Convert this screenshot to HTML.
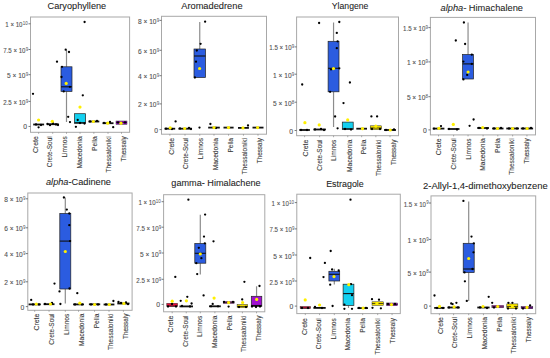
<!DOCTYPE html>
<html><head><meta charset="utf-8"><style>
html,body{margin:0;padding:0;background:#fff;}
svg{display:block;}
text{font-family:"Liberation Sans", sans-serif;}
</style></head><body>
<svg width="550" height="358" viewBox="0 0 550 358">
<rect width="550" height="358" fill="#fff"/>
<rect x="30.5" y="17" width="99.1" height="115.3" fill="#fff" stroke="#a8a8a8" stroke-width="1"/>
<line x1="28.5" y1="126.45" x2="30.5" y2="126.45" stroke="#555" stroke-width="0.8"/>
<text x="27" y="129.45" font-size="6.8" fill="#505050" stroke="#505050" stroke-width="0.1" text-anchor="end">0</text>
<line x1="28.5" y1="101.4" x2="30.5" y2="101.4" stroke="#555" stroke-width="0.8"/>
<text x="25.5" y="104.95" font-size="6.8" fill="#505050" stroke="#505050" stroke-width="0.1" text-anchor="end" textLength="22.29" lengthAdjust="spacingAndGlyphs">2.5 × 10</text>
<text x="25.7" y="102.7" font-size="4.5" fill="#505050" text-anchor="start">9</text>
<line x1="28.5" y1="74.7" x2="30.5" y2="74.7" stroke="#555" stroke-width="0.8"/>
<text x="25.5" y="78.25" font-size="6.8" fill="#505050" stroke="#505050" stroke-width="0.1" text-anchor="end" textLength="18.52" lengthAdjust="spacingAndGlyphs">5 × 10</text>
<text x="25.7" y="76" font-size="4.5" fill="#505050" text-anchor="start">9</text>
<line x1="28.5" y1="49.5" x2="30.5" y2="49.5" stroke="#555" stroke-width="0.8"/>
<text x="25.5" y="53.05" font-size="6.8" fill="#505050" stroke="#505050" stroke-width="0.1" text-anchor="end" textLength="22.29" lengthAdjust="spacingAndGlyphs">7.5 × 10</text>
<text x="25.7" y="50.8" font-size="4.5" fill="#505050" text-anchor="start">9</text>
<line x1="28.5" y1="23.8" x2="30.5" y2="23.8" stroke="#555" stroke-width="0.8"/>
<text x="22.5" y="27.35" font-size="6.8" fill="#505050" stroke="#505050" stroke-width="0.1" text-anchor="end" textLength="17.19" lengthAdjust="spacingAndGlyphs">1 × 10</text>
<text x="22.7" y="25.1" font-size="4.5" fill="#505050" text-anchor="start">10</text>
<line x1="38.65" y1="132.3" x2="38.65" y2="133.8" stroke="#777" stroke-width="0.6"/>
<text transform="translate(38.4 136.3) rotate(-90)" font-size="7" fill="#3a3a3a" stroke="#3a3a3a" stroke-width="0.1" text-anchor="end" textLength="16.8" lengthAdjust="spacingAndGlyphs">Crete</text>
<line x1="52.7" y1="132.3" x2="52.7" y2="133.8" stroke="#777" stroke-width="0.6"/>
<text transform="translate(52.25 136.3) rotate(-90)" font-size="7" fill="#3a3a3a" stroke="#3a3a3a" stroke-width="0.1" text-anchor="end" textLength="31" lengthAdjust="spacingAndGlyphs">Crete-Soul</text>
<line x1="66.5" y1="132.3" x2="66.5" y2="133.8" stroke="#777" stroke-width="0.6"/>
<text transform="translate(67.05 136.3) rotate(-90)" font-size="7" fill="#3a3a3a" stroke="#3a3a3a" stroke-width="0.1" text-anchor="end" textLength="21.3" lengthAdjust="spacingAndGlyphs">Limnos</text>
<line x1="80.05" y1="132.3" x2="80.05" y2="133.8" stroke="#777" stroke-width="0.6"/>
<text transform="translate(82.05 136.3) rotate(-90)" font-size="7" fill="#3a3a3a" stroke="#3a3a3a" stroke-width="0.1" text-anchor="end" textLength="32.3" lengthAdjust="spacingAndGlyphs">Macedonia</text>
<line x1="93.85" y1="132.3" x2="93.85" y2="133.8" stroke="#777" stroke-width="0.6"/>
<text transform="translate(96.55 136.3) rotate(-90)" font-size="7" fill="#3a3a3a" stroke="#3a3a3a" stroke-width="0.1" text-anchor="end" textLength="14.6" lengthAdjust="spacingAndGlyphs">Pella</text>
<line x1="108" y1="132.3" x2="108" y2="133.8" stroke="#777" stroke-width="0.6"/>
<text transform="translate(111.35 136.3) rotate(-90)" font-size="7" fill="#3a3a3a" stroke="#3a3a3a" stroke-width="0.1" text-anchor="end" textLength="36.3" lengthAdjust="spacingAndGlyphs">Thessaloniki</text>
<line x1="121.5" y1="132.3" x2="121.5" y2="133.8" stroke="#777" stroke-width="0.6"/>
<text transform="translate(126.05 136.3) rotate(-90)" font-size="7" fill="#3a3a3a" stroke="#3a3a3a" stroke-width="0.1" text-anchor="end" textLength="25.2" lengthAdjust="spacingAndGlyphs">Thessaly</text>
<rect x="33.2" y="123.6" width="10.9" height="1.8" fill="#111"/>
<rect x="46.8" y="123.3" width="11.8" height="1.8" fill="#111"/>
<line x1="66.5" y1="49.7" x2="66.5" y2="66.8" stroke="#8c8c8c" stroke-width="1.2"/>
<line x1="66.5" y1="91.4" x2="66.5" y2="122" stroke="#8c8c8c" stroke-width="1.2"/>
<rect x="61" y="66.8" width="11" height="24.6" fill="#2b5ce0" stroke="#222" stroke-width="0.7"/>
<line x1="61" y1="86.8" x2="72" y2="86.8" stroke="#111" stroke-width="1.1"/>
<rect x="74.5" y="113.7" width="11.1" height="9.6" fill="#14d0f0" stroke="#222" stroke-width="0.7"/>
<line x1="74.5" y1="122.7" x2="85.6" y2="122.7" stroke="#111" stroke-width="1.1"/>
<rect x="88.4" y="120.6" width="10.9" height="1.8" fill="#111"/>
<rect x="102.5" y="122.3" width="11" height="1.8" fill="#111"/>
<rect x="116" y="121" width="11" height="3.3" fill="#a010d0" stroke="#222" stroke-width="0.45"/>
<line x1="116" y1="122.5" x2="127" y2="122.5" stroke="#111" stroke-width="0.7"/>
<circle cx="38.6" cy="127.3" r="1.15" fill="#000"/>
<circle cx="33" cy="93.8" r="1.15" fill="#000"/>
<circle cx="36" cy="124.5" r="1.15" fill="#000"/>
<circle cx="41" cy="125" r="1.15" fill="#000"/>
<circle cx="47.5" cy="124" r="1.15" fill="#000"/>
<circle cx="50" cy="125.2" r="1.15" fill="#000"/>
<circle cx="53" cy="123.5" r="1.15" fill="#000"/>
<circle cx="56" cy="124.5" r="1.15" fill="#000"/>
<circle cx="58" cy="125" r="1.15" fill="#000"/>
<circle cx="65.7" cy="49.7" r="1.15" fill="#000"/>
<circle cx="69" cy="52" r="1.15" fill="#000"/>
<circle cx="57" cy="61.7" r="1.15" fill="#000"/>
<circle cx="62" cy="66.8" r="1.15" fill="#000"/>
<circle cx="61.5" cy="77" r="1.15" fill="#000"/>
<circle cx="69.9" cy="86.8" r="1.15" fill="#000"/>
<circle cx="63.7" cy="91.4" r="1.15" fill="#000"/>
<circle cx="68.2" cy="116.8" r="1.15" fill="#000"/>
<circle cx="70" cy="122.1" r="1.15" fill="#000"/>
<circle cx="84.6" cy="22" r="1.15" fill="#000"/>
<circle cx="82.8" cy="95.3" r="1.15" fill="#000"/>
<circle cx="77.7" cy="120" r="1.15" fill="#000"/>
<circle cx="75.9" cy="126.8" r="1.15" fill="#000"/>
<circle cx="80" cy="123" r="1.15" fill="#000"/>
<circle cx="84.5" cy="123.5" r="1.15" fill="#000"/>
<circle cx="90" cy="121.5" r="1.15" fill="#000"/>
<circle cx="97" cy="121" r="1.15" fill="#000"/>
<circle cx="113.2" cy="127.2" r="1.15" fill="#000"/>
<circle cx="104" cy="123" r="1.15" fill="#000"/>
<circle cx="110" cy="122" r="1.15" fill="#000"/>
<circle cx="118" cy="122.5" r="1.15" fill="#000"/>
<circle cx="125" cy="122.5" r="1.15" fill="#000"/>
<circle cx="38.6" cy="120" r="1.6" fill="#fff000"/>
<circle cx="52.3" cy="121.3" r="1.6" fill="#fff000"/>
<circle cx="66.2" cy="83.4" r="1.6" fill="#fff000"/>
<circle cx="80" cy="107.1" r="1.6" fill="#fff000"/>
<circle cx="93.4" cy="121.5" r="1.6" fill="#fff000"/>
<circle cx="107.7" cy="123.2" r="1.6" fill="#fff000"/>
<circle cx="121" cy="123.2" r="1.6" fill="#fff000"/>
<text x="47.6" y="9.2" font-size="9.4" fill="#1e1e1e" stroke="#1e1e1e" stroke-width="0.08" textLength="58.6" lengthAdjust="spacingAndGlyphs"><tspan>Caryophyllene</tspan></text>
<rect x="161.5" y="16.3" width="105" height="117.9" fill="#fff" stroke="#a8a8a8" stroke-width="1"/>
<line x1="159.5" y1="129.6" x2="161.5" y2="129.6" stroke="#555" stroke-width="0.8"/>
<text x="158" y="132.6" font-size="6.8" fill="#505050" stroke="#505050" stroke-width="0.1" text-anchor="end">0</text>
<line x1="159.5" y1="103.9" x2="161.5" y2="103.9" stroke="#555" stroke-width="0.8"/>
<text x="156.5" y="107.45" font-size="6.8" fill="#505050" stroke="#505050" stroke-width="0.1" text-anchor="end" textLength="18.52" lengthAdjust="spacingAndGlyphs">2 × 10</text>
<text x="156.7" y="105.2" font-size="4.5" fill="#505050" text-anchor="start">9</text>
<line x1="159.5" y1="75.7" x2="161.5" y2="75.7" stroke="#555" stroke-width="0.8"/>
<text x="156.5" y="79.25" font-size="6.8" fill="#505050" stroke="#505050" stroke-width="0.1" text-anchor="end" textLength="18.52" lengthAdjust="spacingAndGlyphs">4 × 10</text>
<text x="156.7" y="77" font-size="4.5" fill="#505050" text-anchor="start">9</text>
<line x1="159.5" y1="50.3" x2="161.5" y2="50.3" stroke="#555" stroke-width="0.8"/>
<text x="156.5" y="53.85" font-size="6.8" fill="#505050" stroke="#505050" stroke-width="0.1" text-anchor="end" textLength="18.52" lengthAdjust="spacingAndGlyphs">6 × 10</text>
<text x="156.7" y="51.6" font-size="4.5" fill="#505050" text-anchor="start">9</text>
<line x1="159.5" y1="20.4" x2="161.5" y2="20.4" stroke="#555" stroke-width="0.8"/>
<text x="156.5" y="23.95" font-size="6.8" fill="#505050" stroke="#505050" stroke-width="0.1" text-anchor="end" textLength="18.52" lengthAdjust="spacingAndGlyphs">8 × 10</text>
<text x="156.7" y="21.7" font-size="4.5" fill="#505050" text-anchor="start">9</text>
<line x1="169.85" y1="134.2" x2="169.85" y2="135.7" stroke="#777" stroke-width="0.6"/>
<text transform="translate(173.55 138) rotate(-90)" font-size="7" fill="#3a3a3a" stroke="#3a3a3a" stroke-width="0.1" text-anchor="end" textLength="16.8" lengthAdjust="spacingAndGlyphs">Crete</text>
<line x1="185" y1="134.2" x2="185" y2="135.7" stroke="#777" stroke-width="0.6"/>
<text transform="translate(188.35 138) rotate(-90)" font-size="7" fill="#3a3a3a" stroke="#3a3a3a" stroke-width="0.1" text-anchor="end" textLength="31" lengthAdjust="spacingAndGlyphs">Crete-Soul</text>
<line x1="199.75" y1="134.2" x2="199.75" y2="135.7" stroke="#777" stroke-width="0.6"/>
<text transform="translate(203.4 138) rotate(-90)" font-size="7" fill="#3a3a3a" stroke="#3a3a3a" stroke-width="0.1" text-anchor="end" textLength="21.3" lengthAdjust="spacingAndGlyphs">Limnos</text>
<line x1="214" y1="134.2" x2="214" y2="135.7" stroke="#777" stroke-width="0.6"/>
<text transform="translate(218.05 138) rotate(-90)" font-size="7" fill="#3a3a3a" stroke="#3a3a3a" stroke-width="0.1" text-anchor="end" textLength="32.3" lengthAdjust="spacingAndGlyphs">Macedonia</text>
<line x1="228.55" y1="134.2" x2="228.55" y2="135.7" stroke="#777" stroke-width="0.6"/>
<text transform="translate(232.65 138) rotate(-90)" font-size="7" fill="#3a3a3a" stroke="#3a3a3a" stroke-width="0.1" text-anchor="end" textLength="14.6" lengthAdjust="spacingAndGlyphs">Pella</text>
<line x1="243.45" y1="134.2" x2="243.45" y2="135.7" stroke="#777" stroke-width="0.6"/>
<text transform="translate(247.05 138) rotate(-90)" font-size="7" fill="#3a3a3a" stroke="#3a3a3a" stroke-width="0.1" text-anchor="end" textLength="36.3" lengthAdjust="spacingAndGlyphs">Thessaloniki</text>
<line x1="258" y1="134.2" x2="258" y2="135.7" stroke="#777" stroke-width="0.6"/>
<text transform="translate(262.05 138) rotate(-90)" font-size="7" fill="#3a3a3a" stroke="#3a3a3a" stroke-width="0.1" text-anchor="end" textLength="25.2" lengthAdjust="spacingAndGlyphs">Thessaly</text>
<rect x="164.5" y="127.8" width="10.7" height="1.8" fill="#111"/>
<rect x="178.4" y="127.8" width="13.2" height="1.8" fill="#111"/>
<line x1="199.75" y1="22" x2="199.75" y2="49" stroke="#8c8c8c" stroke-width="1.2"/>
<rect x="194" y="49" width="11.5" height="28.5" fill="#2b5ce0" stroke="#222" stroke-width="0.7"/>
<line x1="194" y1="56" x2="205.5" y2="56" stroke="#111" stroke-width="1.1"/>
<rect x="208.2" y="126.7" width="11.6" height="1.8" fill="#111"/>
<rect x="223.5" y="126.7" width="10.1" height="1.8" fill="#111"/>
<rect x="238" y="127" width="10.9" height="1.8" fill="#111"/>
<rect x="252.5" y="126.7" width="11" height="1.8" fill="#111"/>
<circle cx="175.6" cy="121.4" r="1.15" fill="#000"/>
<circle cx="166" cy="128.7" r="1.15" fill="#000"/>
<circle cx="172" cy="129" r="1.15" fill="#000"/>
<circle cx="180" cy="128.5" r="1.15" fill="#000"/>
<circle cx="189" cy="127.8" r="1.15" fill="#000"/>
<circle cx="191" cy="129" r="1.15" fill="#000"/>
<circle cx="205.1" cy="21.7" r="1.15" fill="#000"/>
<circle cx="200.6" cy="43.8" r="1.15" fill="#000"/>
<circle cx="196.8" cy="50.5" r="1.15" fill="#000"/>
<circle cx="196" cy="61.7" r="1.15" fill="#000"/>
<circle cx="194.9" cy="77.5" r="1.15" fill="#000"/>
<circle cx="199.5" cy="127.6" r="1.15" fill="#000"/>
<circle cx="210.4" cy="124" r="1.15" fill="#000"/>
<circle cx="216" cy="128" r="1.15" fill="#000"/>
<circle cx="248" cy="125.5" r="1.15" fill="#000"/>
<circle cx="170.2" cy="127.8" r="1.6" fill="#fff000"/>
<circle cx="184.7" cy="128.5" r="1.6" fill="#fff000"/>
<circle cx="199.6" cy="68.5" r="1.6" fill="#fff000"/>
<circle cx="214" cy="127.6" r="1.6" fill="#fff000"/>
<circle cx="228.5" cy="127.6" r="1.6" fill="#fff000"/>
<circle cx="243" cy="127.9" r="1.6" fill="#fff000"/>
<circle cx="257.6" cy="127.6" r="1.6" fill="#fff000"/>
<text x="181.2" y="9.1" font-size="9.4" fill="#1e1e1e" stroke="#1e1e1e" stroke-width="0.08" textLength="61.4" lengthAdjust="spacingAndGlyphs"><tspan>Aromadedrene</tspan></text>
<rect x="296.6" y="17" width="101.9" height="118.7" fill="#fff" stroke="#a8a8a8" stroke-width="1"/>
<line x1="294.6" y1="130.5" x2="296.6" y2="130.5" stroke="#555" stroke-width="0.8"/>
<text x="293.1" y="133.5" font-size="6.8" fill="#505050" stroke="#505050" stroke-width="0.1" text-anchor="end">0</text>
<line x1="294.6" y1="102.2" x2="296.6" y2="102.2" stroke="#555" stroke-width="0.8"/>
<text x="291.6" y="105.75" font-size="6.8" fill="#505050" stroke="#505050" stroke-width="0.1" text-anchor="end" textLength="18.52" lengthAdjust="spacingAndGlyphs">5 × 10</text>
<text x="291.8" y="103.5" font-size="4.5" fill="#505050" text-anchor="start">8</text>
<line x1="294.6" y1="74.2" x2="296.6" y2="74.2" stroke="#555" stroke-width="0.8"/>
<text x="291.6" y="77.75" font-size="6.8" fill="#505050" stroke="#505050" stroke-width="0.1" text-anchor="end" textLength="18.52" lengthAdjust="spacingAndGlyphs">1 × 10</text>
<text x="291.8" y="75.5" font-size="4.5" fill="#505050" text-anchor="start">9</text>
<line x1="294.6" y1="46.9" x2="296.6" y2="46.9" stroke="#555" stroke-width="0.8"/>
<text x="291.6" y="50.45" font-size="6.8" fill="#505050" stroke="#505050" stroke-width="0.1" text-anchor="end" textLength="22.29" lengthAdjust="spacingAndGlyphs">1.5 × 10</text>
<text x="291.8" y="48.2" font-size="4.5" fill="#505050" text-anchor="start">9</text>
<line x1="304.6" y1="135.7" x2="304.6" y2="137.2" stroke="#777" stroke-width="0.6"/>
<text transform="translate(307.55 139.7) rotate(-90)" font-size="7" fill="#3a3a3a" stroke="#3a3a3a" stroke-width="0.1" text-anchor="end" textLength="16.8" lengthAdjust="spacingAndGlyphs">Crete</text>
<line x1="319.65" y1="135.7" x2="319.65" y2="137.2" stroke="#777" stroke-width="0.6"/>
<text transform="translate(321.95 139.7) rotate(-90)" font-size="7" fill="#3a3a3a" stroke="#3a3a3a" stroke-width="0.1" text-anchor="end" textLength="31" lengthAdjust="spacingAndGlyphs">Crete-Soul</text>
<line x1="333.55" y1="135.7" x2="333.55" y2="137.2" stroke="#777" stroke-width="0.6"/>
<text transform="translate(336.35 139.7) rotate(-90)" font-size="7" fill="#3a3a3a" stroke="#3a3a3a" stroke-width="0.1" text-anchor="end" textLength="21.3" lengthAdjust="spacingAndGlyphs">Limnos</text>
<line x1="347.75" y1="135.7" x2="347.75" y2="137.2" stroke="#777" stroke-width="0.6"/>
<text transform="translate(351.55 139.7) rotate(-90)" font-size="7" fill="#3a3a3a" stroke="#3a3a3a" stroke-width="0.1" text-anchor="end" textLength="32.3" lengthAdjust="spacingAndGlyphs">Macedonia</text>
<line x1="361.65" y1="135.7" x2="361.65" y2="137.2" stroke="#777" stroke-width="0.6"/>
<text transform="translate(366.35 139.7) rotate(-90)" font-size="7" fill="#3a3a3a" stroke="#3a3a3a" stroke-width="0.1" text-anchor="end" textLength="14.6" lengthAdjust="spacingAndGlyphs">Pella</text>
<line x1="375.85" y1="135.7" x2="375.85" y2="137.2" stroke="#777" stroke-width="0.6"/>
<text transform="translate(380.95 139.7) rotate(-90)" font-size="7" fill="#3a3a3a" stroke="#3a3a3a" stroke-width="0.1" text-anchor="end" textLength="36.3" lengthAdjust="spacingAndGlyphs">Thessaloniki</text>
<line x1="390" y1="135.7" x2="390" y2="137.2" stroke="#777" stroke-width="0.6"/>
<text transform="translate(396.05 139.7) rotate(-90)" font-size="7" fill="#3a3a3a" stroke="#3a3a3a" stroke-width="0.1" text-anchor="end" textLength="25.2" lengthAdjust="spacingAndGlyphs">Thessaly</text>
<rect x="299.3" y="129.1" width="10.6" height="1.8" fill="#111"/>
<rect x="313.4" y="128.6" width="12.5" height="1.8" fill="#111"/>
<line x1="333.55" y1="22.5" x2="333.55" y2="41.3" stroke="#8c8c8c" stroke-width="1.2"/>
<line x1="333.55" y1="91.8" x2="333.55" y2="127" stroke="#8c8c8c" stroke-width="1.2"/>
<rect x="328.1" y="41.3" width="10.9" height="50.5" fill="#2b5ce0" stroke="#222" stroke-width="0.7"/>
<line x1="328.1" y1="68.3" x2="339" y2="68.3" stroke="#111" stroke-width="1.1"/>
<rect x="342.3" y="122.1" width="10.9" height="7.5" fill="#14d0f0" stroke="#222" stroke-width="0.7"/>
<line x1="342.3" y1="128.8" x2="353.2" y2="128.8" stroke="#111" stroke-width="1.1"/>
<rect x="356.3" y="127.8" width="10.7" height="1.8" fill="#111"/>
<rect x="370.2" y="125.8" width="11.3" height="3.8" fill="#f0dc00" stroke="#222" stroke-width="0.45"/>
<line x1="370.2" y1="128" x2="381.5" y2="128" stroke="#111" stroke-width="0.7"/>
<rect x="384" y="129.1" width="12" height="1.8" fill="#111"/>
<circle cx="302.2" cy="84.5" r="1.15" fill="#000"/>
<circle cx="301" cy="130" r="1.15" fill="#000"/>
<circle cx="307" cy="130" r="1.15" fill="#000"/>
<circle cx="319.1" cy="23" r="1.15" fill="#000"/>
<circle cx="315" cy="129.5" r="1.15" fill="#000"/>
<circle cx="321" cy="129" r="1.15" fill="#000"/>
<circle cx="324" cy="130" r="1.15" fill="#000"/>
<circle cx="339.3" cy="22" r="1.15" fill="#000"/>
<circle cx="336.8" cy="32.9" r="1.15" fill="#000"/>
<circle cx="337.6" cy="41.3" r="1.15" fill="#000"/>
<circle cx="336.8" cy="48.2" r="1.15" fill="#000"/>
<circle cx="331" cy="69.4" r="1.15" fill="#000"/>
<circle cx="339.3" cy="68.3" r="1.15" fill="#000"/>
<circle cx="330.1" cy="91.8" r="1.15" fill="#000"/>
<circle cx="335.1" cy="116.5" r="1.15" fill="#000"/>
<circle cx="337.6" cy="128.3" r="1.15" fill="#000"/>
<circle cx="349.9" cy="82.5" r="1.15" fill="#000"/>
<circle cx="343.5" cy="103.1" r="1.15" fill="#000"/>
<circle cx="345" cy="129" r="1.15" fill="#000"/>
<circle cx="351" cy="129.5" r="1.15" fill="#000"/>
<circle cx="371.4" cy="116.4" r="1.15" fill="#000"/>
<circle cx="377.1" cy="116.4" r="1.15" fill="#000"/>
<circle cx="372" cy="129" r="1.15" fill="#000"/>
<circle cx="380" cy="129" r="1.15" fill="#000"/>
<circle cx="386" cy="130" r="1.15" fill="#000"/>
<circle cx="394" cy="129.5" r="1.15" fill="#000"/>
<circle cx="304.9" cy="122.7" r="1.6" fill="#fff000"/>
<circle cx="319.2" cy="124.9" r="1.6" fill="#fff000"/>
<circle cx="333.5" cy="68.6" r="1.6" fill="#fff000"/>
<circle cx="347.7" cy="119.9" r="1.6" fill="#fff000"/>
<circle cx="362.5" cy="128.7" r="1.6" fill="#fff000"/>
<circle cx="375.8" cy="126.2" r="1.6" fill="#fff000"/>
<circle cx="390.3" cy="130" r="1.6" fill="#fff000"/>
<text x="331.8" y="9.4" font-size="9.4" fill="#1e1e1e" stroke="#1e1e1e" stroke-width="0.08" textLength="36.6" lengthAdjust="spacingAndGlyphs"><tspan>Ylangene</tspan></text>
<rect x="430.4" y="17.4" width="105.1" height="117.5" fill="#fff" stroke="#a8a8a8" stroke-width="1"/>
<line x1="428.4" y1="129.9" x2="430.4" y2="129.9" stroke="#555" stroke-width="0.8"/>
<text x="426.9" y="132.9" font-size="6.8" fill="#505050" stroke="#505050" stroke-width="0.1" text-anchor="end">0</text>
<line x1="428.4" y1="96.7" x2="430.4" y2="96.7" stroke="#555" stroke-width="0.8"/>
<text x="425.4" y="100.25" font-size="6.8" fill="#505050" stroke="#505050" stroke-width="0.1" text-anchor="end" textLength="18.52" lengthAdjust="spacingAndGlyphs">5 × 10</text>
<text x="425.6" y="98" font-size="4.5" fill="#505050" text-anchor="start">8</text>
<line x1="428.4" y1="61.9" x2="430.4" y2="61.9" stroke="#555" stroke-width="0.8"/>
<text x="425.4" y="65.45" font-size="6.8" fill="#505050" stroke="#505050" stroke-width="0.1" text-anchor="end" textLength="18.52" lengthAdjust="spacingAndGlyphs">1 × 10</text>
<text x="425.6" y="63.2" font-size="4.5" fill="#505050" text-anchor="start">9</text>
<line x1="428.4" y1="27.6" x2="430.4" y2="27.6" stroke="#555" stroke-width="0.8"/>
<text x="425.4" y="31.15" font-size="6.8" fill="#505050" stroke="#505050" stroke-width="0.1" text-anchor="end" textLength="22.29" lengthAdjust="spacingAndGlyphs">1.5 × 10</text>
<text x="425.6" y="28.9" font-size="4.5" fill="#505050" text-anchor="start">9</text>
<line x1="438.55" y1="134.9" x2="438.55" y2="136.4" stroke="#777" stroke-width="0.6"/>
<text transform="translate(441.25 138.4) rotate(-90)" font-size="7" fill="#3a3a3a" stroke="#3a3a3a" stroke-width="0.1" text-anchor="end" textLength="16.8" lengthAdjust="spacingAndGlyphs">Crete</text>
<line x1="453.6" y1="134.9" x2="453.6" y2="136.4" stroke="#777" stroke-width="0.6"/>
<text transform="translate(455.95 138.4) rotate(-90)" font-size="7" fill="#3a3a3a" stroke="#3a3a3a" stroke-width="0.1" text-anchor="end" textLength="31" lengthAdjust="spacingAndGlyphs">Crete-Soul</text>
<line x1="468.05" y1="134.9" x2="468.05" y2="136.4" stroke="#777" stroke-width="0.6"/>
<text transform="translate(470.75 138.4) rotate(-90)" font-size="7" fill="#3a3a3a" stroke="#3a3a3a" stroke-width="0.1" text-anchor="end" textLength="21.3" lengthAdjust="spacingAndGlyphs">Limnos</text>
<line x1="483.1" y1="134.9" x2="483.1" y2="136.4" stroke="#777" stroke-width="0.6"/>
<text transform="translate(485.45 138.4) rotate(-90)" font-size="7" fill="#3a3a3a" stroke="#3a3a3a" stroke-width="0.1" text-anchor="end" textLength="32.3" lengthAdjust="spacingAndGlyphs">Macedonia</text>
<line x1="497.8" y1="134.9" x2="497.8" y2="136.4" stroke="#777" stroke-width="0.6"/>
<text transform="translate(499.55 138.4) rotate(-90)" font-size="7" fill="#3a3a3a" stroke="#3a3a3a" stroke-width="0.1" text-anchor="end" textLength="14.6" lengthAdjust="spacingAndGlyphs">Pella</text>
<line x1="512.65" y1="134.9" x2="512.65" y2="136.4" stroke="#777" stroke-width="0.6"/>
<text transform="translate(514.35 138.4) rotate(-90)" font-size="7" fill="#3a3a3a" stroke="#3a3a3a" stroke-width="0.1" text-anchor="end" textLength="36.3" lengthAdjust="spacingAndGlyphs">Thessaloniki</text>
<line x1="526.95" y1="134.9" x2="526.95" y2="136.4" stroke="#777" stroke-width="0.6"/>
<text transform="translate(529.45 138.4) rotate(-90)" font-size="7" fill="#3a3a3a" stroke="#3a3a3a" stroke-width="0.1" text-anchor="end" textLength="25.2" lengthAdjust="spacingAndGlyphs">Thessaly</text>
<rect x="432.7" y="127.7" width="11.7" height="1.8" fill="#111"/>
<rect x="447.7" y="128.1" width="11.8" height="1.8" fill="#111"/>
<line x1="468.05" y1="22.5" x2="468.05" y2="54.5" stroke="#8c8c8c" stroke-width="1.2"/>
<rect x="462.6" y="54.5" width="10.9" height="24.5" fill="#2b5ce0" stroke="#222" stroke-width="0.7"/>
<line x1="462.6" y1="63.9" x2="473.5" y2="63.9" stroke="#111" stroke-width="1.1"/>
<rect x="477.2" y="127.1" width="11.8" height="1.8" fill="#111"/>
<rect x="492.1" y="127.6" width="11.4" height="1.8" fill="#111"/>
<rect x="506.3" y="127.6" width="12.7" height="1.8" fill="#111"/>
<rect x="520.8" y="127.6" width="12.3" height="1.8" fill="#111"/>
<circle cx="441" cy="126.1" r="1.15" fill="#000"/>
<circle cx="434" cy="128.6" r="1.15" fill="#000"/>
<circle cx="455.8" cy="40.5" r="1.15" fill="#000"/>
<circle cx="449" cy="129" r="1.15" fill="#000"/>
<circle cx="457" cy="129.5" r="1.15" fill="#000"/>
<circle cx="463.9" cy="22.5" r="1.15" fill="#000"/>
<circle cx="465.1" cy="44" r="1.15" fill="#000"/>
<circle cx="471.8" cy="54.7" r="1.15" fill="#000"/>
<circle cx="463.4" cy="61.6" r="1.15" fill="#000"/>
<circle cx="471.8" cy="63.9" r="1.15" fill="#000"/>
<circle cx="467.2" cy="74.9" r="1.15" fill="#000"/>
<circle cx="463.4" cy="79.4" r="1.15" fill="#000"/>
<circle cx="473.6" cy="119.5" r="1.15" fill="#000"/>
<circle cx="469.6" cy="125.8" r="1.15" fill="#000"/>
<circle cx="479" cy="128" r="1.15" fill="#000"/>
<circle cx="487" cy="128.5" r="1.15" fill="#000"/>
<circle cx="494" cy="128.5" r="1.15" fill="#000"/>
<circle cx="501" cy="128" r="1.15" fill="#000"/>
<circle cx="509" cy="128.5" r="1.15" fill="#000"/>
<circle cx="517" cy="128.5" r="1.15" fill="#000"/>
<circle cx="523" cy="128.5" r="1.15" fill="#000"/>
<circle cx="531" cy="128" r="1.15" fill="#000"/>
<circle cx="438.9" cy="128.3" r="1.6" fill="#fff000"/>
<circle cx="453.3" cy="124.4" r="1.6" fill="#fff000"/>
<circle cx="468.1" cy="72" r="1.6" fill="#fff000"/>
<circle cx="482.7" cy="127.6" r="1.6" fill="#fff000"/>
<circle cx="497.5" cy="128.5" r="1.6" fill="#fff000"/>
<circle cx="512.6" cy="128.5" r="1.6" fill="#fff000"/>
<circle cx="527.1" cy="128.5" r="1.6" fill="#fff000"/>
<text x="440.5" y="11.3" font-size="9.4" fill="#1e1e1e" stroke="#1e1e1e" stroke-width="0.08" textLength="82.5" lengthAdjust="spacingAndGlyphs"><tspan font-style="italic">alpha-</tspan><tspan>&#160;Himachalene</tspan></text>
<rect x="27.8" y="193" width="104.3" height="117.3" fill="#fff" stroke="#a8a8a8" stroke-width="1"/>
<line x1="25.8" y1="306.6" x2="27.8" y2="306.6" stroke="#555" stroke-width="0.8"/>
<text x="24.3" y="309.6" font-size="6.8" fill="#505050" stroke="#505050" stroke-width="0.1" text-anchor="end">0</text>
<line x1="25.8" y1="281.8" x2="27.8" y2="281.8" stroke="#555" stroke-width="0.8"/>
<text x="22.8" y="285.35" font-size="6.8" fill="#505050" stroke="#505050" stroke-width="0.1" text-anchor="end" textLength="18.52" lengthAdjust="spacingAndGlyphs">2 × 10</text>
<text x="23" y="283.1" font-size="4.5" fill="#505050" text-anchor="start">9</text>
<line x1="25.8" y1="253.6" x2="27.8" y2="253.6" stroke="#555" stroke-width="0.8"/>
<text x="22.8" y="257.15" font-size="6.8" fill="#505050" stroke="#505050" stroke-width="0.1" text-anchor="end" textLength="18.52" lengthAdjust="spacingAndGlyphs">4 × 10</text>
<text x="23" y="254.9" font-size="4.5" fill="#505050" text-anchor="start">9</text>
<line x1="25.8" y1="227.8" x2="27.8" y2="227.8" stroke="#555" stroke-width="0.8"/>
<text x="22.8" y="231.35" font-size="6.8" fill="#505050" stroke="#505050" stroke-width="0.1" text-anchor="end" textLength="18.52" lengthAdjust="spacingAndGlyphs">6 × 10</text>
<text x="23" y="229.1" font-size="4.5" fill="#505050" text-anchor="start">9</text>
<line x1="25.8" y1="198.8" x2="27.8" y2="198.8" stroke="#555" stroke-width="0.8"/>
<text x="22.8" y="202.35" font-size="6.8" fill="#505050" stroke="#505050" stroke-width="0.1" text-anchor="end" textLength="18.52" lengthAdjust="spacingAndGlyphs">8 × 10</text>
<text x="23" y="200.1" font-size="4.5" fill="#505050" text-anchor="start">9</text>
<line x1="34.7" y1="310.3" x2="34.7" y2="311.8" stroke="#777" stroke-width="0.6"/>
<text transform="translate(39.15 313.7) rotate(-90)" font-size="7" fill="#3a3a3a" stroke="#3a3a3a" stroke-width="0.1" text-anchor="end" textLength="16.8" lengthAdjust="spacingAndGlyphs">Crete</text>
<line x1="49.05" y1="310.3" x2="49.05" y2="311.8" stroke="#777" stroke-width="0.6"/>
<text transform="translate(53.85 313.7) rotate(-90)" font-size="7" fill="#3a3a3a" stroke="#3a3a3a" stroke-width="0.1" text-anchor="end" textLength="31" lengthAdjust="spacingAndGlyphs">Crete-Soul</text>
<line x1="65.3" y1="310.3" x2="65.3" y2="311.8" stroke="#777" stroke-width="0.6"/>
<text transform="translate(68.65 313.7) rotate(-90)" font-size="7" fill="#3a3a3a" stroke="#3a3a3a" stroke-width="0.1" text-anchor="end" textLength="21.3" lengthAdjust="spacingAndGlyphs">Limnos</text>
<line x1="78.55" y1="310.3" x2="78.55" y2="311.8" stroke="#777" stroke-width="0.6"/>
<text transform="translate(83.65 313.7) rotate(-90)" font-size="7" fill="#3a3a3a" stroke="#3a3a3a" stroke-width="0.1" text-anchor="end" textLength="32.3" lengthAdjust="spacingAndGlyphs">Macedonia</text>
<line x1="94.55" y1="310.3" x2="94.55" y2="311.8" stroke="#777" stroke-width="0.6"/>
<text transform="translate(98.55 313.7) rotate(-90)" font-size="7" fill="#3a3a3a" stroke="#3a3a3a" stroke-width="0.1" text-anchor="end" textLength="14.6" lengthAdjust="spacingAndGlyphs">Pella</text>
<line x1="109" y1="310.3" x2="109" y2="311.8" stroke="#777" stroke-width="0.6"/>
<text transform="translate(112.65 313.7) rotate(-90)" font-size="7" fill="#3a3a3a" stroke="#3a3a3a" stroke-width="0.1" text-anchor="end" textLength="36.3" lengthAdjust="spacingAndGlyphs">Thessaloniki</text>
<line x1="123.4" y1="310.3" x2="123.4" y2="311.8" stroke="#777" stroke-width="0.6"/>
<text transform="translate(128.05 313.7) rotate(-90)" font-size="7" fill="#3a3a3a" stroke="#3a3a3a" stroke-width="0.1" text-anchor="end" textLength="25.2" lengthAdjust="spacingAndGlyphs">Thessaly</text>
<rect x="28.6" y="303.5" width="12.2" height="1.8" fill="#111"/>
<rect x="43.6" y="303.3" width="10.9" height="1.8" fill="#111"/>
<line x1="65.3" y1="197.5" x2="65.3" y2="213.5" stroke="#8c8c8c" stroke-width="1.2"/>
<line x1="65.3" y1="289" x2="65.3" y2="303.5" stroke="#8c8c8c" stroke-width="1.2"/>
<rect x="59.8" y="213.5" width="11" height="75.5" fill="#2b5ce0" stroke="#222" stroke-width="0.7"/>
<line x1="59.8" y1="241.1" x2="70.8" y2="241.1" stroke="#111" stroke-width="1.1"/>
<rect x="73.1" y="303.5" width="10.9" height="1.8" fill="#111"/>
<rect x="88.9" y="303.4" width="11.3" height="1.8" fill="#111"/>
<rect x="103.6" y="303.6" width="10.8" height="1.8" fill="#111"/>
<rect x="117.3" y="302.6" width="12.2" height="1.8" fill="#111"/>
<circle cx="31.2" cy="299.9" r="1.15" fill="#000"/>
<circle cx="33" cy="304.5" r="1.15" fill="#000"/>
<circle cx="39" cy="304.5" r="1.15" fill="#000"/>
<circle cx="54.5" cy="283.6" r="1.15" fill="#000"/>
<circle cx="45" cy="304" r="1.15" fill="#000"/>
<circle cx="52" cy="303" r="1.15" fill="#000"/>
<circle cx="63.9" cy="197.5" r="1.15" fill="#000"/>
<circle cx="66.8" cy="209.6" r="1.15" fill="#000"/>
<circle cx="69.3" cy="213.5" r="1.15" fill="#000"/>
<circle cx="69.3" cy="225.2" r="1.15" fill="#000"/>
<circle cx="70.1" cy="241.1" r="1.15" fill="#000"/>
<circle cx="59.5" cy="291.4" r="1.15" fill="#000"/>
<circle cx="69.5" cy="288.5" r="1.15" fill="#000"/>
<circle cx="60.4" cy="304" r="1.15" fill="#000"/>
<circle cx="77.3" cy="293.2" r="1.15" fill="#000"/>
<circle cx="75" cy="304.5" r="1.15" fill="#000"/>
<circle cx="82" cy="304.5" r="1.15" fill="#000"/>
<circle cx="91" cy="304.5" r="1.15" fill="#000"/>
<circle cx="98" cy="304.5" r="1.15" fill="#000"/>
<circle cx="113.4" cy="301" r="1.15" fill="#000"/>
<circle cx="106" cy="304.5" r="1.15" fill="#000"/>
<circle cx="118.5" cy="302" r="1.15" fill="#000"/>
<circle cx="121" cy="303" r="1.15" fill="#000"/>
<circle cx="128" cy="304.2" r="1.15" fill="#000"/>
<circle cx="126" cy="302.5" r="1.15" fill="#000"/>
<circle cx="36.3" cy="304" r="1.6" fill="#fff000"/>
<circle cx="50.5" cy="304" r="1.6" fill="#fff000"/>
<circle cx="65.3" cy="251.5" r="1.6" fill="#fff000"/>
<circle cx="79.8" cy="303.2" r="1.6" fill="#fff000"/>
<circle cx="94.6" cy="304.5" r="1.6" fill="#fff000"/>
<circle cx="109.3" cy="304.5" r="1.6" fill="#fff000"/>
<circle cx="123.9" cy="303.5" r="1.6" fill="#fff000"/>
<text x="46" y="184.6" font-size="9.4" fill="#1e1e1e" stroke="#1e1e1e" stroke-width="0.08" textLength="64.9" lengthAdjust="spacingAndGlyphs"><tspan font-style="italic">alpha</tspan><tspan>-Cadinene</tspan></text>
<rect x="163.6" y="194.7" width="101.2" height="117.1" fill="#fff" stroke="#a8a8a8" stroke-width="1"/>
<line x1="161.6" y1="304.4" x2="163.6" y2="304.4" stroke="#555" stroke-width="0.8"/>
<text x="160.1" y="307.4" font-size="6.8" fill="#505050" stroke="#505050" stroke-width="0.1" text-anchor="end">0</text>
<line x1="161.6" y1="279.3" x2="163.6" y2="279.3" stroke="#555" stroke-width="0.8"/>
<text x="158.6" y="282.85" font-size="6.8" fill="#505050" stroke="#505050" stroke-width="0.1" text-anchor="end" textLength="22.29" lengthAdjust="spacingAndGlyphs">2.5 × 10</text>
<text x="158.8" y="280.6" font-size="4.5" fill="#505050" text-anchor="start">9</text>
<line x1="161.6" y1="253" x2="163.6" y2="253" stroke="#555" stroke-width="0.8"/>
<text x="158.6" y="256.55" font-size="6.8" fill="#505050" stroke="#505050" stroke-width="0.1" text-anchor="end" textLength="18.52" lengthAdjust="spacingAndGlyphs">5 × 10</text>
<text x="158.8" y="254.3" font-size="4.5" fill="#505050" text-anchor="start">9</text>
<line x1="161.6" y1="227.2" x2="163.6" y2="227.2" stroke="#555" stroke-width="0.8"/>
<text x="158.6" y="230.75" font-size="6.8" fill="#505050" stroke="#505050" stroke-width="0.1" text-anchor="end" textLength="22.29" lengthAdjust="spacingAndGlyphs">7.5 × 10</text>
<text x="158.8" y="228.5" font-size="4.5" fill="#505050" text-anchor="start">9</text>
<line x1="161.6" y1="201.7" x2="163.6" y2="201.7" stroke="#555" stroke-width="0.8"/>
<text x="155.6" y="205.25" font-size="6.8" fill="#505050" stroke="#505050" stroke-width="0.1" text-anchor="end" textLength="17.19" lengthAdjust="spacingAndGlyphs">1 × 10</text>
<text x="155.8" y="203" font-size="4.5" fill="#505050" text-anchor="start">10</text>
<line x1="172.2" y1="311.8" x2="172.2" y2="313.3" stroke="#777" stroke-width="0.6"/>
<text transform="translate(173.15 315.7) rotate(-90)" font-size="7" fill="#3a3a3a" stroke="#3a3a3a" stroke-width="0.1" text-anchor="end" textLength="16.8" lengthAdjust="spacingAndGlyphs">Crete</text>
<line x1="186.25" y1="311.8" x2="186.25" y2="313.3" stroke="#777" stroke-width="0.6"/>
<text transform="translate(188.05 315.7) rotate(-90)" font-size="7" fill="#3a3a3a" stroke="#3a3a3a" stroke-width="0.1" text-anchor="end" textLength="31" lengthAdjust="spacingAndGlyphs">Crete-Soul</text>
<line x1="200.3" y1="311.8" x2="200.3" y2="313.3" stroke="#777" stroke-width="0.6"/>
<text transform="translate(202.45 315.7) rotate(-90)" font-size="7" fill="#3a3a3a" stroke="#3a3a3a" stroke-width="0.1" text-anchor="end" textLength="21.3" lengthAdjust="spacingAndGlyphs">Limnos</text>
<line x1="214.9" y1="311.8" x2="214.9" y2="313.3" stroke="#777" stroke-width="0.6"/>
<text transform="translate(217.05 315.7) rotate(-90)" font-size="7" fill="#3a3a3a" stroke="#3a3a3a" stroke-width="0.1" text-anchor="end" textLength="32.3" lengthAdjust="spacingAndGlyphs">Macedonia</text>
<line x1="228.7" y1="311.8" x2="228.7" y2="313.3" stroke="#777" stroke-width="0.6"/>
<text transform="translate(231.75 315.7) rotate(-90)" font-size="7" fill="#3a3a3a" stroke="#3a3a3a" stroke-width="0.1" text-anchor="end" textLength="14.6" lengthAdjust="spacingAndGlyphs">Pella</text>
<line x1="242.4" y1="311.8" x2="242.4" y2="313.3" stroke="#777" stroke-width="0.6"/>
<text transform="translate(246.05 315.7) rotate(-90)" font-size="7" fill="#3a3a3a" stroke="#3a3a3a" stroke-width="0.1" text-anchor="end" textLength="36.3" lengthAdjust="spacingAndGlyphs">Thessaloniki</text>
<line x1="256.55" y1="311.8" x2="256.55" y2="313.3" stroke="#777" stroke-width="0.6"/>
<text transform="translate(260.75 315.7) rotate(-90)" font-size="7" fill="#3a3a3a" stroke="#3a3a3a" stroke-width="0.1" text-anchor="end" textLength="25.2" lengthAdjust="spacingAndGlyphs">Thessaly</text>
<rect x="166.8" y="303.3" width="10.8" height="3.3" fill="#e8123c" stroke="#222" stroke-width="0.45"/>
<line x1="166.8" y1="306" x2="177.6" y2="306" stroke="#111" stroke-width="0.7"/>
<rect x="179.5" y="305.5" width="13.5" height="1.8" fill="#111"/>
<line x1="200.3" y1="214.8" x2="200.3" y2="243.5" stroke="#8c8c8c" stroke-width="1.2"/>
<line x1="200.3" y1="263.2" x2="200.3" y2="274.5" stroke="#8c8c8c" stroke-width="1.2"/>
<rect x="194.8" y="243.5" width="11" height="19.7" fill="#2b5ce0" stroke="#222" stroke-width="0.7"/>
<line x1="194.8" y1="253.3" x2="205.8" y2="253.3" stroke="#111" stroke-width="1.1"/>
<rect x="209" y="305.4" width="11.8" height="1.8" fill="#111"/>
<rect x="223.2" y="301.4" width="11" height="2.1" fill="#d040c8" stroke="#222" stroke-width="0.45"/>
<line x1="223.2" y1="302.5" x2="234.2" y2="302.5" stroke="#111" stroke-width="0.7"/>
<rect x="237.1" y="304.4" width="10.6" height="3.3" fill="#f0dc00" stroke="#222" stroke-width="0.45"/>
<line x1="237.1" y1="306.5" x2="247.7" y2="306.5" stroke="#111" stroke-width="0.7"/>
<line x1="256.55" y1="286.3" x2="256.55" y2="296.3" stroke="#8c8c8c" stroke-width="1.2"/>
<rect x="251.3" y="296.3" width="10.5" height="10.3" fill="#a010d0" stroke="#222" stroke-width="0.7"/>
<line x1="251.3" y1="305.5" x2="261.8" y2="305.5" stroke="#111" stroke-width="1.1"/>
<circle cx="175.3" cy="276.9" r="1.15" fill="#000"/>
<circle cx="168" cy="306.5" r="1.15" fill="#000"/>
<circle cx="176" cy="306.5" r="1.15" fill="#000"/>
<circle cx="172" cy="304" r="1.15" fill="#000"/>
<circle cx="188.4" cy="199.7" r="1.15" fill="#000"/>
<circle cx="180.7" cy="300.8" r="1.15" fill="#000"/>
<circle cx="187.3" cy="296.8" r="1.15" fill="#000"/>
<circle cx="191.6" cy="303.5" r="1.15" fill="#000"/>
<circle cx="182" cy="306" r="1.15" fill="#000"/>
<circle cx="190" cy="306.5" r="1.15" fill="#000"/>
<circle cx="205.1" cy="214.6" r="1.15" fill="#000"/>
<circle cx="204" cy="236.6" r="1.15" fill="#000"/>
<circle cx="213.5" cy="241.3" r="1.15" fill="#000"/>
<circle cx="204.8" cy="243.3" r="1.15" fill="#000"/>
<circle cx="198.8" cy="247.8" r="1.15" fill="#000"/>
<circle cx="201.4" cy="258.2" r="1.15" fill="#000"/>
<circle cx="196.3" cy="263.2" r="1.15" fill="#000"/>
<circle cx="197.2" cy="274.1" r="1.15" fill="#000"/>
<circle cx="203.6" cy="295.4" r="1.15" fill="#000"/>
<circle cx="212.7" cy="303.9" r="1.15" fill="#000"/>
<circle cx="211" cy="306.3" r="1.15" fill="#000"/>
<circle cx="218" cy="306.3" r="1.15" fill="#000"/>
<circle cx="228.6" cy="306.6" r="1.15" fill="#000"/>
<circle cx="224" cy="302" r="1.15" fill="#000"/>
<circle cx="233" cy="302" r="1.15" fill="#000"/>
<circle cx="244.4" cy="281.8" r="1.15" fill="#000"/>
<circle cx="242.2" cy="299.4" r="1.15" fill="#000"/>
<circle cx="239" cy="307" r="1.15" fill="#000"/>
<circle cx="246" cy="307" r="1.15" fill="#000"/>
<circle cx="259.5" cy="286" r="1.15" fill="#000"/>
<circle cx="252" cy="306.5" r="1.15" fill="#000"/>
<circle cx="256" cy="307" r="1.15" fill="#000"/>
<circle cx="260" cy="306.5" r="1.15" fill="#000"/>
<circle cx="172.2" cy="301.2" r="1.6" fill="#fff000"/>
<circle cx="186.4" cy="300.8" r="1.6" fill="#fff000"/>
<circle cx="200.3" cy="254" r="1.6" fill="#fff000"/>
<circle cx="214.1" cy="298.1" r="1.6" fill="#fff000"/>
<circle cx="228.6" cy="302.6" r="1.6" fill="#fff000"/>
<circle cx="242.6" cy="302.6" r="1.6" fill="#fff000"/>
<circle cx="256.7" cy="299.4" r="1.6" fill="#fff000"/>
<text x="171.3" y="185.5" font-size="9.4" fill="#1e1e1e" stroke="#1e1e1e" stroke-width="0.08" textLength="89.4" lengthAdjust="spacingAndGlyphs"><tspan>gamma-&#160;Himalachene</tspan></text>
<rect x="296.8" y="194.2" width="103.5" height="119.4" fill="#fff" stroke="#a8a8a8" stroke-width="1"/>
<line x1="294.8" y1="306.1" x2="296.8" y2="306.1" stroke="#555" stroke-width="0.8"/>
<text x="293.3" y="309.1" font-size="6.8" fill="#505050" stroke="#505050" stroke-width="0.1" text-anchor="end">0</text>
<line x1="294.8" y1="281" x2="296.8" y2="281" stroke="#555" stroke-width="0.8"/>
<text x="291.8" y="284.55" font-size="6.8" fill="#505050" stroke="#505050" stroke-width="0.1" text-anchor="end" textLength="22.29" lengthAdjust="spacingAndGlyphs">2.5 × 10</text>
<text x="292" y="282.3" font-size="4.5" fill="#505050" text-anchor="start">9</text>
<line x1="294.8" y1="255" x2="296.8" y2="255" stroke="#555" stroke-width="0.8"/>
<text x="291.8" y="258.55" font-size="6.8" fill="#505050" stroke="#505050" stroke-width="0.1" text-anchor="end" textLength="18.52" lengthAdjust="spacingAndGlyphs">5 × 10</text>
<text x="292" y="256.3" font-size="4.5" fill="#505050" text-anchor="start">9</text>
<line x1="294.8" y1="228.9" x2="296.8" y2="228.9" stroke="#555" stroke-width="0.8"/>
<text x="291.8" y="232.45" font-size="6.8" fill="#505050" stroke="#505050" stroke-width="0.1" text-anchor="end" textLength="22.29" lengthAdjust="spacingAndGlyphs">7.5 × 10</text>
<text x="292" y="230.2" font-size="4.5" fill="#505050" text-anchor="start">9</text>
<line x1="294.8" y1="202.6" x2="296.8" y2="202.6" stroke="#555" stroke-width="0.8"/>
<text x="288.8" y="206.15" font-size="6.8" fill="#505050" stroke="#505050" stroke-width="0.1" text-anchor="end" textLength="17.19" lengthAdjust="spacingAndGlyphs">1 × 10</text>
<text x="289" y="203.9" font-size="4.5" fill="#505050" text-anchor="start">10</text>
<line x1="305.3" y1="313.6" x2="305.3" y2="315.1" stroke="#777" stroke-width="0.6"/>
<text transform="translate(306.75 318.2) rotate(-90)" font-size="7" fill="#3a3a3a" stroke="#3a3a3a" stroke-width="0.1" text-anchor="end" textLength="16.8" lengthAdjust="spacingAndGlyphs">Crete</text>
<line x1="319.55" y1="313.6" x2="319.55" y2="315.1" stroke="#777" stroke-width="0.6"/>
<text transform="translate(321.25 318.2) rotate(-90)" font-size="7" fill="#3a3a3a" stroke="#3a3a3a" stroke-width="0.1" text-anchor="end" textLength="31" lengthAdjust="spacingAndGlyphs">Crete-Soul</text>
<line x1="334.3" y1="313.6" x2="334.3" y2="315.1" stroke="#777" stroke-width="0.6"/>
<text transform="translate(335.95 318.2) rotate(-90)" font-size="7" fill="#3a3a3a" stroke="#3a3a3a" stroke-width="0.1" text-anchor="end" textLength="21.3" lengthAdjust="spacingAndGlyphs">Limnos</text>
<line x1="348.5" y1="313.6" x2="348.5" y2="315.1" stroke="#777" stroke-width="0.6"/>
<text transform="translate(350.45 318.2) rotate(-90)" font-size="7" fill="#3a3a3a" stroke="#3a3a3a" stroke-width="0.1" text-anchor="end" textLength="32.3" lengthAdjust="spacingAndGlyphs">Macedonia</text>
<line x1="362.7" y1="313.6" x2="362.7" y2="315.1" stroke="#777" stroke-width="0.6"/>
<text transform="translate(365.45 318.2) rotate(-90)" font-size="7" fill="#3a3a3a" stroke="#3a3a3a" stroke-width="0.1" text-anchor="end" textLength="14.6" lengthAdjust="spacingAndGlyphs">Pella</text>
<line x1="377.7" y1="313.6" x2="377.7" y2="315.1" stroke="#777" stroke-width="0.6"/>
<text transform="translate(380.25 318.2) rotate(-90)" font-size="7" fill="#3a3a3a" stroke="#3a3a3a" stroke-width="0.1" text-anchor="end" textLength="36.3" lengthAdjust="spacingAndGlyphs">Thessaloniki</text>
<line x1="392.05" y1="313.6" x2="392.05" y2="315.1" stroke="#777" stroke-width="0.6"/>
<text transform="translate(395.05 318.2) rotate(-90)" font-size="7" fill="#3a3a3a" stroke="#3a3a3a" stroke-width="0.1" text-anchor="end" textLength="25.2" lengthAdjust="spacingAndGlyphs">Thessaly</text>
<rect x="300.1" y="306.5" width="10.4" height="2" fill="#e8123c" stroke="#222" stroke-width="0.45"/>
<line x1="300.1" y1="308" x2="310.5" y2="308" stroke="#111" stroke-width="0.7"/>
<rect x="313.4" y="307" width="12.3" height="1.8" fill="#111"/>
<line x1="334.3" y1="268.8" x2="334.3" y2="271.3" stroke="#8c8c8c" stroke-width="1.2"/>
<line x1="334.3" y1="281" x2="334.3" y2="284.5" stroke="#8c8c8c" stroke-width="1.2"/>
<rect x="328.9" y="271.3" width="10.8" height="9.7" fill="#2b5ce0" stroke="#222" stroke-width="0.7"/>
<line x1="328.9" y1="274.3" x2="339.7" y2="274.3" stroke="#111" stroke-width="1.1"/>
<line x1="348.5" y1="305.4" x2="348.5" y2="307.9" stroke="#8c8c8c" stroke-width="1.2"/>
<rect x="343.1" y="284.2" width="10.8" height="21.2" fill="#14d0f0" stroke="#222" stroke-width="0.7"/>
<line x1="343.1" y1="293.6" x2="353.9" y2="293.6" stroke="#111" stroke-width="1.1"/>
<rect x="357.4" y="307.2" width="10.6" height="1.8" fill="#111"/>
<rect x="372" y="301.8" width="11.4" height="3.6" fill="#f0dc00" stroke="#222" stroke-width="0.45"/>
<line x1="372" y1="303.5" x2="383.4" y2="303.5" stroke="#111" stroke-width="0.7"/>
<rect x="386.6" y="303" width="10.9" height="2.7" fill="#a010d0" stroke="#222" stroke-width="0.45"/>
<line x1="386.6" y1="304.5" x2="397.5" y2="304.5" stroke="#111" stroke-width="0.7"/>
<circle cx="302" cy="308" r="1.15" fill="#000"/>
<circle cx="308" cy="308" r="1.15" fill="#000"/>
<circle cx="310.2" cy="258" r="1.15" fill="#000"/>
<circle cx="315" cy="307" r="1.15" fill="#000"/>
<circle cx="322" cy="308" r="1.15" fill="#000"/>
<circle cx="330.7" cy="251" r="1.15" fill="#000"/>
<circle cx="324.9" cy="262.9" r="1.15" fill="#000"/>
<circle cx="323.5" cy="277.1" r="1.15" fill="#000"/>
<circle cx="332.1" cy="269.5" r="1.15" fill="#000"/>
<circle cx="338.7" cy="270.5" r="1.15" fill="#000"/>
<circle cx="330.2" cy="284.7" r="1.15" fill="#000"/>
<circle cx="332.6" cy="306" r="1.15" fill="#000"/>
<circle cx="350.5" cy="199.7" r="1.15" fill="#000"/>
<circle cx="351" cy="284.2" r="1.15" fill="#000"/>
<circle cx="352" cy="295.2" r="1.15" fill="#000"/>
<circle cx="344.4" cy="304.6" r="1.15" fill="#000"/>
<circle cx="344.4" cy="308.8" r="1.15" fill="#000"/>
<circle cx="352" cy="308.8" r="1.15" fill="#000"/>
<circle cx="359" cy="308" r="1.15" fill="#000"/>
<circle cx="366" cy="308" r="1.15" fill="#000"/>
<circle cx="372" cy="299.2" r="1.15" fill="#000"/>
<circle cx="379" cy="299.7" r="1.15" fill="#000"/>
<circle cx="372.5" cy="307.8" r="1.15" fill="#000"/>
<circle cx="380.9" cy="308.3" r="1.15" fill="#000"/>
<circle cx="388" cy="304" r="1.15" fill="#000"/>
<circle cx="395" cy="304" r="1.15" fill="#000"/>
<circle cx="305.2" cy="299.9" r="1.6" fill="#fff000"/>
<circle cx="319.6" cy="305" r="1.6" fill="#fff000"/>
<circle cx="334" cy="276.6" r="1.6" fill="#fff000"/>
<circle cx="348.8" cy="284.7" r="1.6" fill="#fff000"/>
<circle cx="363.1" cy="308.1" r="1.6" fill="#fff000"/>
<circle cx="376.9" cy="303.4" r="1.6" fill="#fff000"/>
<circle cx="391.5" cy="304.6" r="1.6" fill="#fff000"/>
<text x="326.2" y="186.8" font-size="9.4" fill="#1e1e1e" stroke="#1e1e1e" stroke-width="0.08" textLength="37.6" lengthAdjust="spacingAndGlyphs"><tspan>Estragole</tspan></text>
<rect x="431" y="195.9" width="104.7" height="117.8" fill="#fff" stroke="#a8a8a8" stroke-width="1"/>
<line x1="429" y1="306.1" x2="431" y2="306.1" stroke="#555" stroke-width="0.8"/>
<text x="427.5" y="309.1" font-size="6.8" fill="#505050" stroke="#505050" stroke-width="0.1" text-anchor="end">0</text>
<line x1="429" y1="272.1" x2="431" y2="272.1" stroke="#555" stroke-width="0.8"/>
<text x="426" y="275.65" font-size="6.8" fill="#505050" stroke="#505050" stroke-width="0.1" text-anchor="end" textLength="18.52" lengthAdjust="spacingAndGlyphs">5 × 10</text>
<text x="426.2" y="273.4" font-size="4.5" fill="#505050" text-anchor="start">8</text>
<line x1="429" y1="239.4" x2="431" y2="239.4" stroke="#555" stroke-width="0.8"/>
<text x="426" y="242.95" font-size="6.8" fill="#505050" stroke="#505050" stroke-width="0.1" text-anchor="end" textLength="18.52" lengthAdjust="spacingAndGlyphs">1 × 10</text>
<text x="426.2" y="240.7" font-size="4.5" fill="#505050" text-anchor="start">9</text>
<line x1="429" y1="203" x2="431" y2="203" stroke="#555" stroke-width="0.8"/>
<text x="426" y="206.55" font-size="6.8" fill="#505050" stroke="#505050" stroke-width="0.1" text-anchor="end" textLength="22.29" lengthAdjust="spacingAndGlyphs">1.5 × 10</text>
<text x="426.2" y="204.3" font-size="4.5" fill="#505050" text-anchor="start">9</text>
<line x1="439.4" y1="313.7" x2="439.4" y2="315.2" stroke="#777" stroke-width="0.6"/>
<text transform="translate(443.25 317.1) rotate(-90)" font-size="7" fill="#3a3a3a" stroke="#3a3a3a" stroke-width="0.1" text-anchor="end" textLength="16.8" lengthAdjust="spacingAndGlyphs">Crete</text>
<line x1="453.6" y1="313.7" x2="453.6" y2="315.2" stroke="#777" stroke-width="0.6"/>
<text transform="translate(457.35 317.1) rotate(-90)" font-size="7" fill="#3a3a3a" stroke="#3a3a3a" stroke-width="0.1" text-anchor="end" textLength="31" lengthAdjust="spacingAndGlyphs">Crete-Soul</text>
<line x1="468.7" y1="313.7" x2="468.7" y2="315.2" stroke="#777" stroke-width="0.6"/>
<text transform="translate(472.05 317.1) rotate(-90)" font-size="7" fill="#3a3a3a" stroke="#3a3a3a" stroke-width="0.1" text-anchor="end" textLength="21.3" lengthAdjust="spacingAndGlyphs">Limnos</text>
<line x1="483.45" y1="313.7" x2="483.45" y2="315.2" stroke="#777" stroke-width="0.6"/>
<text transform="translate(486.85 317.1) rotate(-90)" font-size="7" fill="#3a3a3a" stroke="#3a3a3a" stroke-width="0.1" text-anchor="end" textLength="32.3" lengthAdjust="spacingAndGlyphs">Macedonia</text>
<line x1="497.75" y1="313.7" x2="497.75" y2="315.2" stroke="#777" stroke-width="0.6"/>
<text transform="translate(501.85 317.1) rotate(-90)" font-size="7" fill="#3a3a3a" stroke="#3a3a3a" stroke-width="0.1" text-anchor="end" textLength="14.6" lengthAdjust="spacingAndGlyphs">Pella</text>
<line x1="512.35" y1="313.7" x2="512.35" y2="315.2" stroke="#777" stroke-width="0.6"/>
<text transform="translate(516.05 317.1) rotate(-90)" font-size="7" fill="#3a3a3a" stroke="#3a3a3a" stroke-width="0.1" text-anchor="end" textLength="36.3" lengthAdjust="spacingAndGlyphs">Thessaloniki</text>
<line x1="526.95" y1="313.7" x2="526.95" y2="315.2" stroke="#777" stroke-width="0.6"/>
<text transform="translate(531.15 317.1) rotate(-90)" font-size="7" fill="#3a3a3a" stroke="#3a3a3a" stroke-width="0.1" text-anchor="end" textLength="25.2" lengthAdjust="spacingAndGlyphs">Thessaly</text>
<rect x="434.2" y="307" width="10.4" height="1.8" fill="#111"/>
<rect x="447.4" y="306.6" width="12.4" height="1.8" fill="#111"/>
<line x1="468.7" y1="201.4" x2="468.7" y2="243.3" stroke="#8c8c8c" stroke-width="1.2"/>
<line x1="468.7" y1="272.6" x2="468.7" y2="300.9" stroke="#8c8c8c" stroke-width="1.2"/>
<rect x="463.2" y="243.3" width="11" height="29.3" fill="#2b5ce0" stroke="#222" stroke-width="0.7"/>
<line x1="463.2" y1="269" x2="474.2" y2="269" stroke="#111" stroke-width="1.1"/>
<rect x="477.3" y="306.6" width="12.3" height="1.8" fill="#111"/>
<rect x="491.9" y="305.3" width="11.7" height="2.5" fill="#d040c8" stroke="#222" stroke-width="0.45"/>
<line x1="491.9" y1="306.8" x2="503.6" y2="306.8" stroke="#111" stroke-width="0.7"/>
<rect x="506.8" y="303.9" width="11.1" height="4.8" fill="#f0dc00" stroke="#222" stroke-width="0.45"/>
<line x1="506.8" y1="306.5" x2="517.9" y2="306.5" stroke="#111" stroke-width="0.7"/>
<rect x="521.1" y="306.5" width="11.7" height="2.2" fill="#a010d0" stroke="#222" stroke-width="0.45"/>
<line x1="521.1" y1="307.8" x2="532.8" y2="307.8" stroke="#111" stroke-width="0.7"/>
<circle cx="434.5" cy="295.5" r="1.15" fill="#000"/>
<circle cx="437" cy="308" r="1.15" fill="#000"/>
<circle cx="443" cy="308" r="1.15" fill="#000"/>
<circle cx="452.6" cy="304.1" r="1.15" fill="#000"/>
<circle cx="456.4" cy="302.8" r="1.15" fill="#000"/>
<circle cx="451.2" cy="303.5" r="1.15" fill="#000"/>
<circle cx="449" cy="307.5" r="1.15" fill="#000"/>
<circle cx="458" cy="307.5" r="1.15" fill="#000"/>
<circle cx="463.4" cy="200.9" r="1.15" fill="#000"/>
<circle cx="471.5" cy="236.6" r="1.15" fill="#000"/>
<circle cx="473.8" cy="243.3" r="1.15" fill="#000"/>
<circle cx="473.5" cy="252.3" r="1.15" fill="#000"/>
<circle cx="472.5" cy="269" r="1.15" fill="#000"/>
<circle cx="464.5" cy="272.4" r="1.15" fill="#000"/>
<circle cx="464.9" cy="281.3" r="1.15" fill="#000"/>
<circle cx="466.8" cy="300.9" r="1.15" fill="#000"/>
<circle cx="488.7" cy="296.8" r="1.15" fill="#000"/>
<circle cx="480" cy="307.5" r="1.15" fill="#000"/>
<circle cx="487" cy="308" r="1.15" fill="#000"/>
<circle cx="492.2" cy="302.8" r="1.15" fill="#000"/>
<circle cx="494" cy="307.5" r="1.15" fill="#000"/>
<circle cx="512.4" cy="302.8" r="1.15" fill="#000"/>
<circle cx="508.4" cy="302.8" r="1.15" fill="#000"/>
<circle cx="508" cy="308.5" r="1.15" fill="#000"/>
<circle cx="516" cy="308.5" r="1.15" fill="#000"/>
<circle cx="530.1" cy="305.5" r="1.15" fill="#000"/>
<circle cx="523" cy="308.5" r="1.15" fill="#000"/>
<circle cx="439.5" cy="306.4" r="1.6" fill="#fff000"/>
<circle cx="454.1" cy="306.9" r="1.6" fill="#fff000"/>
<circle cx="468.7" cy="258.5" r="1.6" fill="#fff000"/>
<circle cx="483" cy="306.5" r="1.6" fill="#fff000"/>
<circle cx="497.7" cy="306.5" r="1.6" fill="#fff000"/>
<circle cx="512.4" cy="306" r="1.6" fill="#fff000"/>
<circle cx="527" cy="307.4" r="1.6" fill="#fff000"/>
<text x="423" y="188.7" font-size="9.4" fill="#1e1e1e" stroke="#1e1e1e" stroke-width="0.08" textLength="124.7" lengthAdjust="spacingAndGlyphs"><tspan>2-Allyl-1,4-dimethoxybenzene</tspan></text>
</svg>
</body></html>
